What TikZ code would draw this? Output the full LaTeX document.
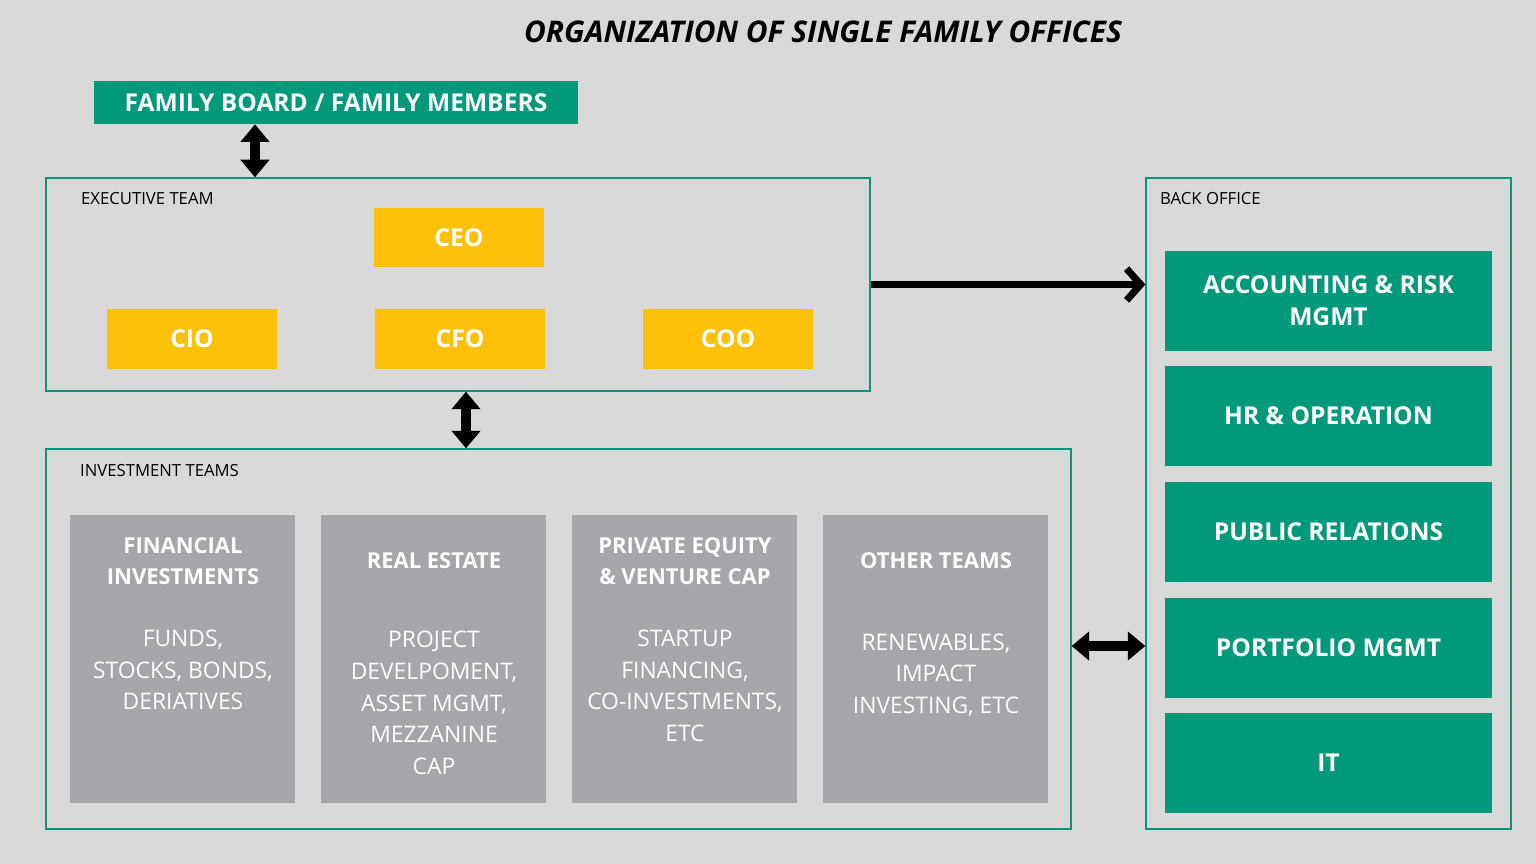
\documentclass[tikz,border=0pt]{standalone}
\usepackage{fontspec}
\setmainfont{Open Sans}
\usetikzlibrary{arrows.meta}
\definecolor{sfogreen}{RGB}{0,153,122}
\definecolor{sfoyellow}{RGB}{253,193,10}
\definecolor{sfogray}{RGB}{165,166,170}
\definecolor{sfobg}{RGB}{217,217,217}
\begin{document}
\begin{tikzpicture}[x=0.02cm,y=-0.02cm,
  frame/.style={draw=sfogreen, line width=0.8pt, inner sep=0pt},
  label/.style={anchor=west, font=\fontsize{9.5}{11}\selectfont},
  exec/.style={fill=sfoyellow, text=white, font=\bfseries\fontsize{14}{16}\selectfont,
    minimum width=3.4cm, minimum height=1.2cm, inner sep=0pt},
  team/.style={fill=sfogray, text=white, minimum width=4.5cm, minimum height=5.76cm, inner sep=0pt},
  office/.style={fill=sfogreen, text=white, font=\bfseries\fontsize{14}{18}\selectfont,
    minimum width=6.54cm, minimum height=2cm, inner sep=0pt, align=center},
  teamhead/.style={text=white, font=\bfseries\fontsize{12.5}{18}\selectfont, align=center},
  teambody/.style={text=white, font=\fontsize{13}{18}\selectfont, align=center},
  bigarrow/.style={line width=6pt, {Triangle[width=16pt,length=10pt]}-{Triangle[width=16pt,length=10pt]}}]
\fill[sfobg] (0,0) rectangle (1536,864);

% Title
\node[font=\bfseries\itshape\fontsize{17}{20}\selectfont] (title) at (823,32) {ORGANIZATION OF SINGLE FAMILY OFFICES};

% Family board
\node[fill=sfogreen, text=white, font=\bfseries\fontsize{14}{16}\selectfont,
  minimum width=9.68cm, minimum height=0.86cm, inner sep=0pt] (family) at (336,102.5) {FAMILY BOARD / FAMILY MEMBERS};

% Executive team
\node[frame, minimum width=16.48cm, minimum height=4.26cm] (execteam) at (458,284.5) {};
\node[label] (execlabel) at (75,199) {EXECUTIVE TEAM};
\node[exec] (ceo) at (459,237.5) {CEO};
\node[exec] (cio) at (192,339) {CIO};
\node[exec] (cfo) at (460,339) {CFO};
\node[exec] (coo) at (728,339) {COO};

% Investment teams
\node[frame, minimum width=20.5cm, minimum height=7.6cm] (invteam) at (558.5,639) {};
\node[label] (invlabel) at (74,471) {INVESTMENT TEAMS};
\foreach \x/\name in {182.5/fin, 433.5/re, 684.5/pe, 935.5/other}
  \node[team] (\name) at (\x,659) {};
\node[teamhead] at (183,561) {FINANCIAL\\INVESTMENTS};
\node[teambody] at (183,670) {FUNDS,\\STOCKS, BONDS,\\DERIATIVES};
\node[teamhead] at (434,561) {REAL ESTATE};
\node[teambody] at (434,703) {PROJECT\\DEVELPOMENT,\\ASSET MGMT,\\MEZZANINE\\CAP};
\node[teamhead] at (685,561) {PRIVATE EQUITY\\\& VENTURE CAP};
\node[teambody] at (685,686) {STARTUP\\FINANCING,\\CO-INVESTMENTS,\\ETC};
\node[teamhead] at (936,561) {OTHER TEAMS};
\node[teambody] at (936,675) {RENEWABLES,\\IMPACT\\INVESTING, ETC};

% Back office
\node[frame, minimum width=7.3cm, minimum height=13.02cm] (back) at (1328.5,503.5) {};
\node[label] (backlabel) at (1154,199) {BACK OFFICE};
\node[office] (acc) at (1328.5,301) {ACCOUNTING \& RISK\\MGMT};
\node[office] (hr) at (1328.5,416) {HR \& OPERATION};
\node[office] (pr) at (1328.5,532) {PUBLIC RELATIONS};
\node[office] (port) at (1328.5,648) {PORTFOLIO MGMT};
\node[office] (it) at (1328.5,763) {IT};

% Arrows
\draw[bigarrow] (family.south -| 255,0) -- (execteam.north -| 255,0);
\draw[bigarrow] (execteam.south -| 466,0) -- (invteam.north -| 466,0);
\draw[bigarrow] (invteam.east |- 0,646) -- (back.west |- 0,646);
\draw[line width=4pt, -{Straight Barb[length=8pt,width=18pt]}] (execteam.east) -- (execteam.east -| back.west);
\end{tikzpicture}
\end{document}
